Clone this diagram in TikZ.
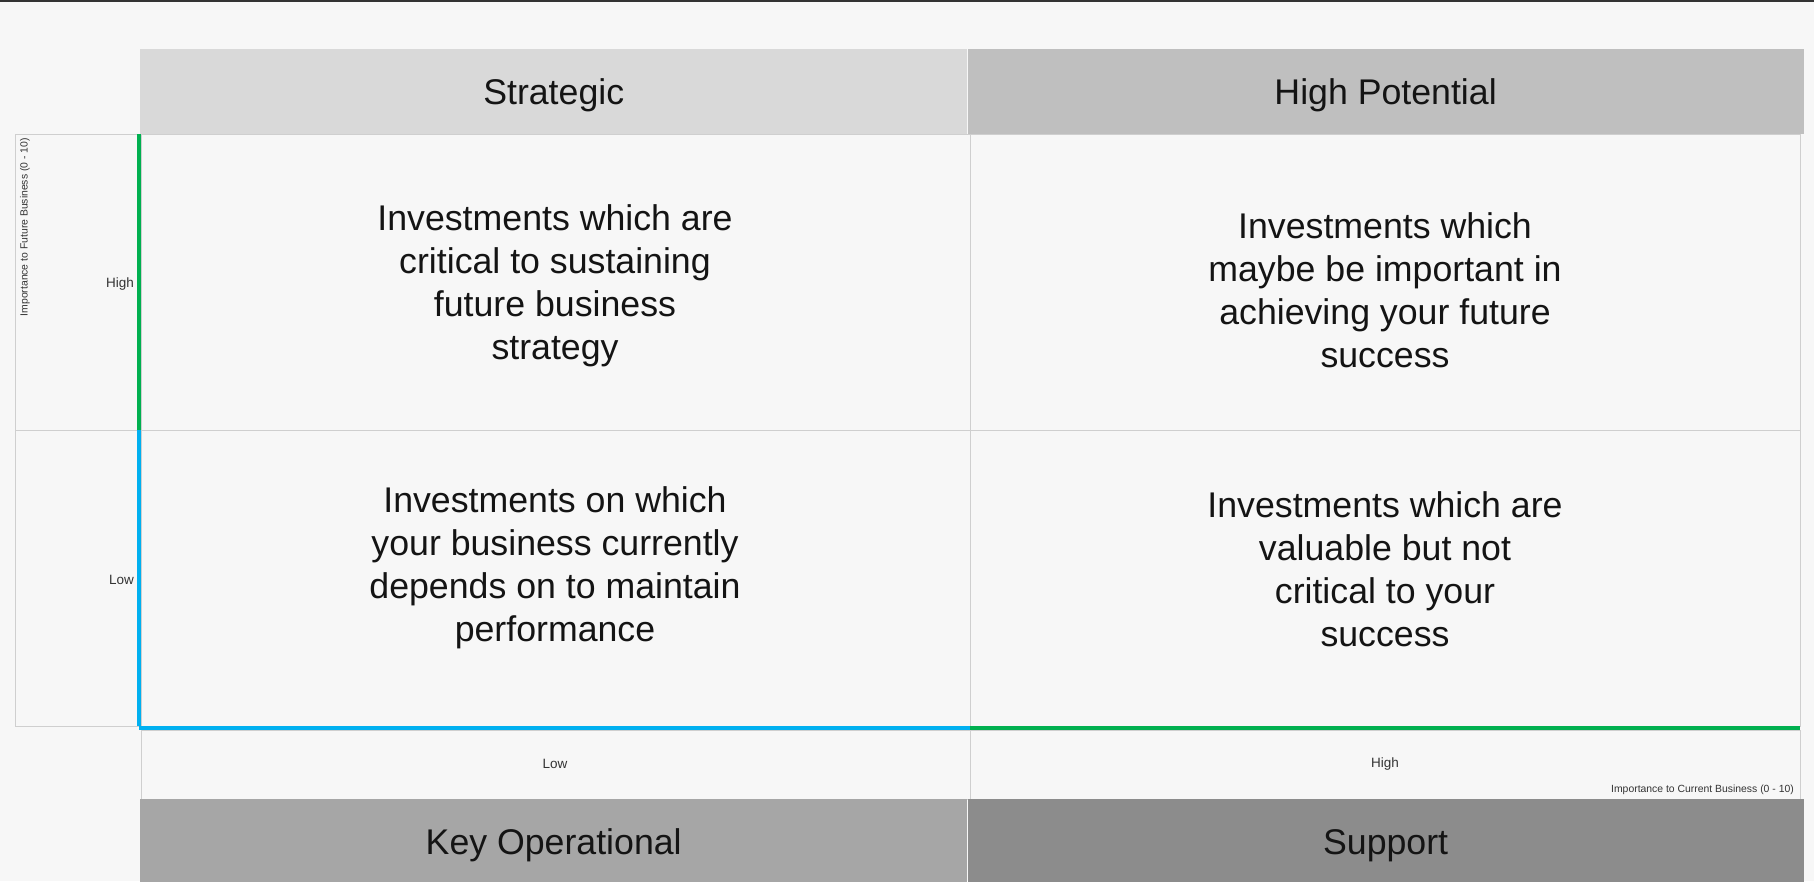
\documentclass[tikz,border=0pt]{standalone}
\usepackage{fontspec}
\setmainfont{Liberation Sans}
\usetikzlibrary{positioning}
\definecolor{pagebg}{HTML}{F7F7F7}
\definecolor{gridcol}{HTML}{CFCFCF}
\definecolor{strathd}{HTML}{D9D9D9}
\definecolor{potenhd}{HTML}{BFBFBF}
\definecolor{operhd}{HTML}{A6A6A6}
\definecolor{supphd}{HTML}{8C8C8C}
\definecolor{axgreen}{HTML}{00B050}
\definecolor{axblue}{HTML}{00B0F0}
\definecolor{inktext}{HTML}{141414}
\definecolor{smalltext}{HTML}{333333}
\begin{document}
\begin{tikzpicture}[x=1pt,y=-1pt,
                    head/.style={fill=#1, inner sep=0pt, anchor=north west,
                                 minimum height=85pt, text=inktext,
                                 text height=25.5pt, text depth=0pt,
                                 font=\fontsize{35.7}{42}\selectfont},
                    cell/.style={draw=gridcol, fill=pagebg, line width=1pt,
                                 inner sep=0pt, anchor=north west},
                    quadtext/.style={align=center, text=inktext,
                                     font=\fontsize{35.7}{43}\selectfont},
                    ticklabel/.style={text=smalltext, inner sep=1pt,
                                      font=\fontsize{13.5}{16}\selectfont},
                    axislabel/.style={text=smalltext, inner sep=0pt,
                                      font=\fontsize{10.4}{12}\selectfont}]
  \fill[pagebg] (0,0) rectangle (1814,881);
  \useasboundingbox (0,0) rectangle (1814,881);
  \draw[line width=1.5pt, smalltext] (0,0.75) -- (1814,0.75);
  % headers
  \node[head=strathd, minimum width=827pt] (strat) at (140,49) {Strategic};
  \node[head=potenhd, minimum width=836pt, right=0pt of strat] (poten) {High Potential};
  % quadrants
  \node[cell, minimum width=829pt, minimum height=296pt] (q11) at (141,134) {};
  \node[cell, minimum width=830pt, minimum height=296pt] (q12) at (970,134) {};
  \node[cell, minimum width=829pt, minimum height=296pt] (q21) at (141,430) {};
  \node[cell, minimum width=830pt, minimum height=296pt] (q22) at (970,430) {};
  % vertical axis box
  \node[cell, minimum width=125pt, minimum height=296pt] (yhigh) at (15,134) {};
  \node[cell, minimum width=125pt, minimum height=296pt] (ylow) at (15,430) {};
  % horizontal axis box
  \node[cell, minimum width=829pt, minimum height=69pt] (xlow) at (141,730) {};
  \node[cell, minimum width=830pt, minimum height=69pt] (xhigh) at (970,730) {};
  % coloured axes
  \draw[axgreen, line width=4pt] (139,134) -- (139,430);
  \draw[axblue, line width=4pt] (139,430) -- (139,726);
  \draw[axblue, line width=4pt] (139,728) -- (970,728);
  \draw[axgreen, line width=4pt] (970,728) -- (1800,728);
  % quadrant texts
  \node[quadtext] (t11) at (555,286) {Investments which are\\critical to sustaining\\future business\\strategy};
  \node[quadtext] (t12) at (1385,290) {Investments which\\maybe be important in\\achieving your future\\success};
  \node[quadtext] (t21) at (555,568) {Investments on which\\your business currently\\depends on to maintain\\performance};
  \node[quadtext] (t22) at (1385,569) {Investments which are\\valuable but not\\critical to your\\success};
  % axis labels
  \node[axislabel, rotate=90, anchor=east] (ytitle) at (25,138) {Importance to Future Business (0 - 10)};
  \node[ticklabel, anchor=east] (yh) at (135,284) {High};
  \node[ticklabel, anchor=east] (yl) at (135,580) {Low};
  \node[ticklabel] (xl) at (555,764) {Low};
  \node[ticklabel] (xh) at (1385,764) {High};
  \node[axislabel, anchor=east] (xtitle) at (1794,790) {Importance to Current Business (0 - 10)};
  % footers
  \node[head=operhd, minimum width=827pt] (keyop) at (140,799) {Key Operational};
  \node[head=supphd, minimum width=836pt, right=0pt of keyop] (supp) {Support};
\end{tikzpicture}
\end{document}
